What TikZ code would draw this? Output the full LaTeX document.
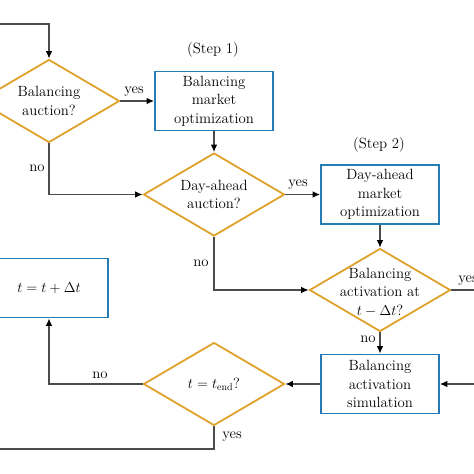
\documentclass[tikz,border=0pt]{standalone}
\usetikzlibrary{shapes.geometric,arrows.meta}
\definecolor{boxblue}{RGB}{38,124,182}
\definecolor{diaor}{RGB}{222,162,42}
\definecolor{conn}{RGB}{75,75,75}
\begin{document}
\begin{tikzpicture}[x=1pt,y=-1pt,
  every node/.style={font=\fontsize{14.8}{18.5}\selectfont},
  procbox/.style={draw=boxblue,line width=1.8pt,fill=white,align=center,minimum width=118pt,minimum height=59pt,inner sep=2pt},
  decision/.style={draw=diaor,line width=1.8pt,diamond,inner sep=0pt,minimum width=141pt,minimum height=83pt},
  dtext/.style={align=center,inner sep=0pt},
  lbl/.style={inner sep=0pt},
  flow/.style={draw=conn,line width=1.2pt,-{Latex[length=7.5pt,width=6.5pt,color=black]}},
  plain/.style={draw=conn,line width=1.2pt}]
\useasboundingbox (0,0) rectangle (474,474);
\clip (0,0) rectangle (474,474);

% entry/exit coordinates
\coordinate (topin) at (-5,24);
\coordinate (rightout) at (480,290);
\coordinate (rightin) at (480,384);
\coordinate (botout) at (-5,449);

% decisions
\node[decision] (d1) at (49,101) {};
\node[dtext] (d1t) at (d1) {Balancing\\auction?};
\node[decision] (d2) at (214,194.5) {};
\node[dtext] (d2t) at (d2) {Day-ahead\\auction?};
\node[decision] (d3) at (380,290) {};
\node[dtext] (d3t) at (380,292) {Balancing\\activation at\\$t-\Delta t$?};
\node[decision] (d4) at (214,384) {};
\node[dtext] (d4t) at (d4) {$t=t_{\mathrm{end}}$?};

% processes
\node[procbox] (b1) at (214,101) {Balancing\\market\\optimization};
\node[procbox] (b2) at (380,194.5) {Day-ahead\\market\\optimization};
\node[procbox] (b3) at (380,384) {Balancing\\activation\\simulation};
\node[procbox] (b4) at (49,288) {$t=t+\Delta t$};

% step labels
\node[lbl] (s1) at (213,50) {(Step 1)};
\node[lbl] (s2) at (379,145) {(Step 2)};

% connectors
\draw[flow] (topin) -| (d1.north);
\draw[flow] (d1.east) -- (b1.west);
\draw[flow] (b1.south) -- (d2.north);
\draw[flow] (d1.south) |- (d2.west);
\draw[flow] (d2.east) -- (b2.west);
\draw[flow] (b2.south) -- (d3.north);
\draw[flow] (d2.south) |- (d3.west);
\draw[plain] (d3.east) -- (rightout);
\draw[flow] (d3.south) -- (b3.north);
\draw[flow] (rightin) -- (b3.east);
\draw[flow] (b3.west) -- (d4.east);
\draw[flow] (d4.west) -| (b4.south);
\draw[plain] (d4.south) |- (botout);

% edge labels
\node[lbl] (l1) at (134,92) {yes};
\node[lbl] (l2) at (37,168) {no};
\node[lbl] (l3) at (298,185) {yes};
\node[lbl] (l4) at (201,263) {no};
\node[lbl] (l5) at (468,281) {yes};
\node[lbl] (l6) at (368,339) {no};
\node[lbl] (l7) at (100,375) {no};
\node[lbl] (l8) at (232,437) {yes};
\end{tikzpicture}
\end{document}
